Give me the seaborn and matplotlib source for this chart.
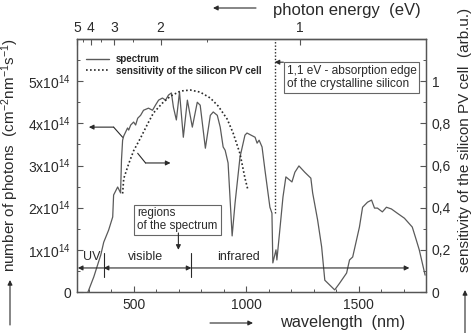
import numpy as np
import pandas as pd
import matplotlib
matplotlib.use("Agg")
import matplotlib.pyplot as plt
from matplotlib.lines import Line2D
from matplotlib.ticker import FixedLocator, MultipleLocator
import seaborn as sns

# Solar photon spectrum (units of 1e14 photons cm^-2 nm^-1 s^-1)
wl_spec = [297, 323, 354, 367, 389, 407, 411, 429, 442, 446, 451, 456, 473, 478,
           487, 500, 509, 518, 531, 544, 566, 584, 597, 611, 628, 642, 655, 668,
           677, 690, 704, 721, 739, 761, 783, 796, 819, 841, 854, 872, 885, 898,
           907, 920, 938, 951, 973, 995, 1004, 1040, 1049, 1058, 1071, 1084, 1106,
           1115, 1119, 1133, 1137, 1150, 1164, 1177, 1204, 1217, 1235, 1261, 1288,
           1296, 1318, 1336, 1350, 1394, 1416, 1447, 1460, 1474, 1504, 1518, 1540,
           1558, 1571, 1584, 1606, 1624, 1646, 1672, 1704, 1739, 1757, 1770, 1796]
photons_e14 = [0.0, 0.36, 0.88, 1.18, 1.47, 1.78, 2.30, 2.49, 2.35, 3.13, 3.60, 3.70,
               3.89, 3.84, 3.96, 4.03, 3.96, 4.12, 4.19, 4.31, 4.36, 4.31, 4.43, 4.55,
               4.60, 4.55, 4.67, 4.72, 4.38, 4.08, 4.74, 3.67, 4.55, 3.91, 4.50, 4.43,
               3.41, 4.19, 4.27, 4.19, 3.91, 3.44, 3.36, 3.06, 1.33, 2.11, 3.20, 3.72,
               3.77, 3.67, 3.53, 3.60, 3.44, 2.89, 2.01, 1.87, 0.69, 1.00, 0.76, 1.47,
               2.25, 2.73, 2.61, 2.84, 2.99, 2.84, 2.70, 2.35, 1.71, 1.07, 0.28, 0.05,
               0.21, 0.45, 0.76, 0.83, 1.54, 2.01, 2.13, 2.18, 1.99, 1.99, 1.90, 2.01,
               1.97, 1.87, 1.75, 1.54, 1.23, 1.00, 0.40]

# Relative sensitivity of a crystalline silicon PV cell
wl_sens = [451, 456, 478, 500, 531, 562, 588, 628, 664, 708, 752, 796, 841, 876,
           916, 942, 973, 995, 1009]
sensitivity = [0.467, 0.538, 0.608, 0.670, 0.731, 0.797, 0.849, 0.896, 0.929, 0.953,
               0.958, 0.948, 0.920, 0.882, 0.820, 0.755, 0.656, 0.540, 0.481]

left_ticks = [0, 1e14, 2e14, 3e14, 4e14, 5e14]
left_labels = ["0", "1x10$^{14}$", "2x10$^{14}$", "3x10$^{14}$", "4x10$^{14}$", "5x10$^{14}$"]
right_ticks = [0, 0.2, 0.4, 0.6, 0.8, 1.0]
right_labels = ["0", "0,2", "0,4", "0,6", "0,8", "1"]
energy_ticks = [1, 2, 3, 4, 5]
edge_nm = 1127  # 1.1 eV absorption edge

spec = pd.DataFrame({"wavelength": wl_spec, "photons": np.array(photons_e14) * 1e14})
sens = pd.DataFrame({"wavelength": wl_sens, "sensitivity": sensitivity})

sns.set_theme(style="ticks")
plt.rcParams["font.family"] = ["Liberation Sans", "DejaVu Sans"]
plt.rcParams["mathtext.fontset"] = "custom"
plt.rcParams["mathtext.rm"] = "Liberation Sans"
plt.rcParams["mathtext.it"] = "Liberation Sans:italic"
plt.rcParams["mathtext.bf"] = "Liberation Sans:bold"

ink = "#2a2a2a"
line_c = "#5a5a5a"
spine_c = "#555555"

W, H = 474, 333
fig = plt.figure(figsize=(W / 100, H / 100), dpi=100)
ax = fig.add_axes([76.5 / W, 41 / H, 349.5 / W, 253 / H])

sns.lineplot(data=spec, x="wavelength", y="photons", ax=ax, color=line_c,
             lw=0.9, estimator=None, sort=False)
ax.set_xlim(246, 1800)
ax.set_ylim(0, 6e14)
ax.set_xlabel("")
ax.set_ylabel("")
ax.xaxis.set_major_locator(FixedLocator([500, 1000, 1500]))
ax.xaxis.set_minor_locator(MultipleLocator(100))
ax.yaxis.set_major_locator(FixedLocator(left_ticks))
ax.set_yticklabels(left_labels)
ax.yaxis.set_minor_locator(MultipleLocator(0.5e14))

ax2 = ax.twinx()
sns.lineplot(data=sens, x="wavelength", y="sensitivity", ax=ax2, color=ink,
             lw=1.2, linestyle=(0, (1, 1.4)), estimator=None, sort=False)
ax2.set_ylim(0, 1.2)
ax2.set_ylabel("")
ax2.yaxis.set_major_locator(FixedLocator(right_ticks))
ax2.set_yticklabels(right_labels)
ax2.yaxis.set_minor_locator(MultipleLocator(0.1))


def nm_to_ev(x):
    x = np.asarray(x, dtype=float)
    with np.errstate(divide="ignore"):
        return np.where(x == 0, np.inf, 1240.0 / x)


top = ax.secondary_xaxis("top", functions=(nm_to_ev, nm_to_ev))
top.xaxis.set_major_locator(FixedLocator(energy_ticks))
top.xaxis.set_minor_locator(FixedLocator([1.5, 2.5, 3.5, 4.5]))

for a in (ax, ax2):
    for s in a.spines.values():
        s.set_color(spine_c)
        s.set_linewidth(0.9)
for s in top.spines.values():
    s.set_color(spine_c)
    s.set_linewidth(0.9)

tick_kw = dict(direction="in", colors=ink, labelsize=10, color=spine_c)
ax.tick_params(axis="both", which="major", length=4, width=0.8, pad=4, **tick_kw)
ax.tick_params(axis="both", which="minor", length=2, width=0.7, direction="in", color=spine_c)
ax.tick_params(axis="y", right=False)
ax2.tick_params(axis="y", which="major", length=4, width=0.8, pad=4, **tick_kw)
ax2.tick_params(axis="y", which="minor", length=2, width=0.7, direction="in", color=spine_c)
top.tick_params(axis="x", which="major", length=4, width=0.8, pad=3, **tick_kw)
top.tick_params(axis="x", which="minor", length=2, width=0.7, direction="in", color=spine_c)

# absorption edge
ax.plot([edge_nm, edge_nm], [1.87e14, 6e14], color=ink, lw=1.0, linestyle=(0, (1, 1.4)))
ax.text(1180, 5.08e14, "1,1 eV - absorption edge\nof the crystalline silicon",
        fontsize=8.6, color=ink, ha="left", va="center", linespacing=1.15,
        bbox=dict(boxstyle="square,pad=0.25", fc="white", ec="#666666", lw=0.8))
arrow_kw = dict(arrowstyle="-|>", color=ink, lw=0.8, mutation_scale=7, shrinkA=0, shrinkB=0)
ax.annotate("", xy=(edge_nm, 5.45e14), xytext=(1166, 5.45e14), arrowprops=arrow_kw)

# pointers from the curves to their axes
ax.plot([451, 411], [3.67e14, 3.91e14], color=ink, lw=0.8)
ax.annotate("", xy=(301, 3.91e14), xytext=(411, 3.91e14), arrowprops=arrow_kw)
ax.plot([518, 553], [3.29e14, 3.06e14], color=ink, lw=0.8)
ax.annotate("", xy=(664, 3.06e14), xytext=(553, 3.06e14), arrowprops=arrow_kw)

# regions of the spectrum
region_y = 0.57e14
uv_vis, vis_ir = 367, 757
ax.annotate("", xy=(252, region_y), xytext=(uv_vis, region_y), arrowprops=arrow_kw)
ax.annotate("", xy=(vis_ir, region_y), xytext=(uv_vis, region_y),
            arrowprops=dict(arrowstyle="<|-|>", color=ink, lw=0.8, mutation_scale=7,
                            shrinkA=0, shrinkB=0))
ax.annotate("", xy=(1726, region_y), xytext=(vis_ir, region_y), arrowprops=arrow_kw)
for xb in (uv_vis, vis_ir):
    ax.plot([xb, xb], [0.36e14, 0.92e14], color=ink, lw=0.8)
for xt, lab in ((312, "UV"), (553, "visible"), (965, "infrared")):
    ax.text(xt, 0.82e14, lab, fontsize=9, color=ink, ha="center", va="center")
ax.text(516, 1.71e14, "regions\nof the spectrum", fontsize=8.4, color=ink,
        ha="left", va="center", linespacing=1.1,
        bbox=dict(boxstyle="square,pad=0.25", fc="white", ec="#666666", lw=0.8))
ax.annotate("", xy=(699, 1.0e14), xytext=(699, 1.40e14), arrowprops=arrow_kw)

# legend
handles = [Line2D([], [], color=line_c, lw=1.0),
           Line2D([], [], color=ink, lw=1.2, linestyle=(0, (1, 1.4)))]
ax2.legend(handles, ["spectrum", "sensitivity of the silicon PV cell"],
           loc="upper left", bbox_to_anchor=(0.015, 0.955), borderaxespad=0,
           frameon=False, handlelength=2.4, handletextpad=0.7, labelspacing=0.15,
           prop=dict(family="Liberation Sans", weight="bold", size=7))

# axis titles with direction arrows
fx = lambda px: px / W
fy = lambda py: 1 - py / H
fig_arrow = dict(arrowstyle="-|>", color=ink, lw=0.8, mutation_scale=7, shrinkA=0, shrinkB=0)
fig.text(fx(347), fy(11), "photon energy  (eV)", fontsize=12, color=ink, ha="center", va="center")
ax.annotate("", xy=(fx(213), fy(8)), xytext=(fx(256), fy(8)), xycoords="figure fraction",
            textcoords="figure fraction", arrowprops=fig_arrow)
fig.text(fx(343), fy(322), "wavelength  (nm)", fontsize=11.7, color=ink, ha="center", va="center")
ax.annotate("", xy=(fx(253), fy(323)), xytext=(fx(210), fy(323)), xycoords="figure fraction",
            textcoords="figure fraction", arrowprops=fig_arrow)
fig.text(fx(10), fy(155), "number of photons  (cm$^{-2}$nm$^{-1}$s$^{-1}$)", fontsize=11,
         color=ink, ha="center", va="center", rotation=90)
ax.annotate("", xy=(fx(10), fy(280)), xytext=(fx(10), fy(325)), xycoords="figure fraction",
            textcoords="figure fraction", arrowprops=fig_arrow)
fig.text(fx(465), fy(140), "sensitivity of the silicon PV cell  (arb.u.)", fontsize=11,
         color=ink, ha="center", va="center", rotation=90)
ax.annotate("", xy=(fx(465), fy(290)), xytext=(fx(465), fy(333)), xycoords="figure fraction",
            textcoords="figure fraction", arrowprops=fig_arrow)

fig.savefig("out.png", dpi=100)
